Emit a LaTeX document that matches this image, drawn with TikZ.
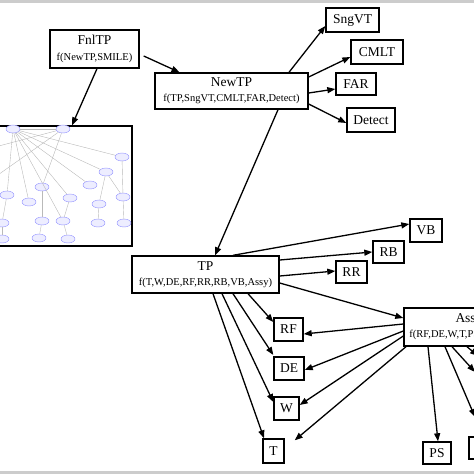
\documentclass[tikz,border=0pt]{standalone}
\usepackage{fontspec}
\setmainfont{Liberation Serif}
\usetikzlibrary{arrows.meta,shapes.geometric}
\newcommand{\bigtxt}{\fontsize{13.5}{15}\selectfont}
\newcommand{\smalltxt}{\fontsize{10.5}{12}\selectfont}
\tikzset{
  box/.style={draw, line width=1.4pt, inner sep=0pt, font=\bigtxt},
  funcbox/.style={box, align=center, font=\smalltxt},
  arr/.style={line width=1.3pt, -{Triangle[length=8pt,width=6pt]}},
  gnode/.style={ellipse, draw=blue!45, fill=blue!7, line width=.4pt, minimum width=14pt, minimum height=8pt, inner sep=0pt},
  gline/.style={draw=gray!55, line width=.4pt},
}
\begin{document}
\begin{tikzpicture}[x=1pt,y=-1pt]
\useasboundingbox (0,0) rectangle (474,474);
\clip (0,0) rectangle (474,474);
\fill[gray!40] (0,0) rectangle (474,3);
\fill[gray!40] (0,471) rectangle (474,474);

% upper part
\node[funcbox, minimum width=89pt, minimum height=38pt] (fnltp) at (94.5,49) {{\bigtxt FnlTP}\\[4pt]f(NewTP,SMILE)};
\node[funcbox, minimum width=153pt, minimum height=36pt] (newtp) at (231.5,91) {{\bigtxt NewTP}\\[3pt]f(TP,SngVT,CMLT,FAR,Detect)};
\node[box, minimum width=53pt, minimum height=24pt] (sngvt) at (352.5,20) {SngVT};
\node[box, minimum width=52pt, minimum height=24pt] (cmlt) at (377,52) {CMLT};
\node[box, minimum width=40pt, minimum height=22pt] (far) at (356,84) {FAR};
\node[box, minimum width=48pt, minimum height=24pt] (detect) at (371,120) {Detect};

% small graph picture
\node[draw, line width=1.4pt, minimum width=142pt, minimum height=120pt, inner sep=0pt] (thumb) at (61,186) {};
\foreach \n/\x/\y in {g1/13/129, g2/63/129, g3/122/157, g4/106/172, g5/90/185, g6/42/187,
  g7/7/195, g8/29/202, g9/70/198, g10/99/204, g11/123/197, g12/2/223, g13/42/221,
  g14/63/221, g15/98/223, g16/124/223, g17/2/239, g18/39/238, g19/68/239}
  \node[gnode] (\n) at (\x,\y) {};
\coordinate (gl1) at (-5,147);
\coordinate (gl2) at (-5,177);
\foreach \a/\b in {g1/g2, g1/g3, g1/g4, g1/g5, g1/g9, g1/g8, g1/g7, g1/g14, g2/g6, g2/gl1, g2/gl2,
  g3/g11, g11/g16, g4/g10, g10/g15, g4/g11, g6/g13, g13/g18, g9/g14, g14/g19, g7/g12, g12/g17}
  \draw[gline] (\a) -- (\b);

% lower part
\node[funcbox, minimum width=147pt, minimum height=37pt] (tp) at (205.5,274.5) {{\bigtxt TP}\\[3pt]f(T,W,DE,RF,RR,RB,VB,Assy)};
\node[box, minimum width=32pt, minimum height=23pt] (vb) at (426,230.5) {VB};
\node[box, minimum width=31pt, minimum height=22pt] (rb) at (388.5,252) {RB};
\node[box, minimum width=31pt, minimum height=22pt] (rr) at (351.5,272) {RR};
\node[funcbox, minimum width=130pt, minimum height=38pt] (assy) at (469,327) {{\bigtxt Assy}\\[3pt]f(RF,DE,W,T,PS,SS,AS,CS)};
\node[box, minimum width=29pt, minimum height=23pt] (rf) at (288.5,329.5) {RF};
\node[box, minimum width=30pt, minimum height=23pt] (de) at (289,368.5) {DE};
\node[box, minimum width=25pt, minimum height=23pt] (w) at (286.5,408.5) {W};
\node[box, minimum width=21pt, minimum height=24pt] (t) at (273.5,451) {T};
\node[box, minimum width=28pt, minimum height=22pt] (ps) at (437,453) {PS};
\node[box, minimum width=40pt, minimum height=22pt] (sbox) at (489,448) {};
\coordinate (out1) at (475,417);
\coordinate (out2) at (475,372);
\coordinate (out3) at (478,356);

% arrows
\draw[arr] ([xshift=4pt,yshift=-7pt]fnltp.east) -- ([xshift=-52pt]newtp.north);
\draw[arr] ([xshift=2.5pt]fnltp.south) -- ([xshift=11pt]thumb.north);
\draw[arr] ([xshift=57.5pt]newtp.north) -- ([yshift=-6pt]sngvt.west);
\draw[arr] ([yshift=14pt]newtp.east) -- ([yshift=-5pt]cmlt.west);
\draw[arr] ([yshift=-2pt]newtp.east) -- ([yshift=-5pt]far.west);
\draw[arr] ([yshift=-13pt]newtp.east) -- ([yshift=-3pt]detect.west);
\draw[arr] ([xshift=46.5pt]newtp.south) -- ([xshift=9.5pt]tp.north);

\draw[arr] ([xshift=27.5pt]tp.north) -- ([yshift=6.5pt]vb.west);
\draw[arr] ([yshift=14.5pt]tp.east) -- (rb.west);
\draw[arr] ([yshift=-1.5pt]tp.east) -- ([yshift=1pt]rr.west);
\draw[arr] ([yshift=-8.5pt]tp.east) -- ([yshift=9pt]assy.west);
\draw[arr] ([xshift=42.5pt]tp.south) -- ([yshift=7.5pt]rf.west);
\draw[arr] ([xshift=27.5pt]tp.south) -- ([yshift=13.5pt]de.west);
\draw[arr] ([xshift=16.5pt]tp.south) -- ([yshift=6.5pt]w.west);
\draw[arr] ([xshift=7.5pt]tp.south) -- ([xshift=-9.5pt]t.north);

\draw[arr] ([yshift=3pt]assy.west) -- ([yshift=-4.5pt]rf.east);
\draw[arr] ([yshift=-4pt]assy.west) -- ([yshift=-1.5pt]de.east);
\draw[arr] ([yshift=-9pt]assy.west) -- ([yshift=3.5pt]w.east);
\draw[arr] ([xshift=-63pt]assy.south) -- ([xshift=10pt,yshift=-2pt]t.north east);
\draw[arr] ([xshift=-41pt]assy.south) -- ([xshift=1pt]ps.north);
\draw[arr] ([xshift=-24pt]assy.south) -- (out1);
\draw[arr] ([xshift=-17pt]assy.south) -- (out2);
\draw[arr] ([xshift=-2pt]assy.south) -- (out3);
\end{tikzpicture}
\end{document}
